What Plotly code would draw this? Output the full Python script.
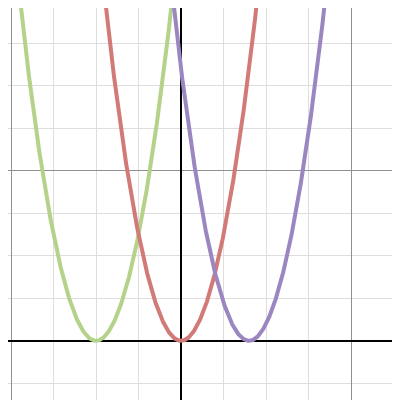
import numpy as np
import plotly.graph_objects as go

# parabolas y = a * (x - h)^2
curve_names = ["green", "red", "purple"]
vertex_x = [-1.0, 0.0, 0.8]
coef_a = [5.0, 5.0, 5.0]
colors = ["#b5d28a", "#d27a78", "#9b86c2"]

# visible window of the reference; page body has 8px margin, so shift
px_per_unit = 85.0
body_off = 8 / px_per_unit
x_range = [-2.13 + body_off, -2.13 + body_off + 400 / px_per_unit]
y_range = [4.01 - body_off - 400 / px_per_unit, 4.01 - body_off]

fig = go.Figure()
xs = np.linspace(x_range[0] - 0.2, x_range[1], 1200)
for name, h, a, c in zip(curve_names, vertex_x, coef_a, colors):
    ys = a * (xs - h) ** 2
    ys = np.where(ys > 4.5, np.nan, ys)
    fig.add_trace(go.Scatter(x=xs, y=ys, mode="lines", name=name,
                             line=dict(color=c, width=4), hoverinfo="skip"))

axis_style = dict(showticklabels=False, ticks="", dtick=2, tick0=0,
                  showgrid=True, gridcolor="#909090", gridwidth=1,
                  zeroline=True, zerolinecolor="#000000", zerolinewidth=1.5,
                  minor=dict(dtick=0.5, showgrid=True, gridcolor="#dedede", gridwidth=1),
                  fixedrange=True, showline=False)

fig.update_layout(
    width=400, height=400, showlegend=False,
    margin=dict(l=0, r=0, t=0, b=0),
    paper_bgcolor="white", plot_bgcolor="white",
    xaxis=dict(range=x_range, **axis_style),
    yaxis=dict(range=y_range, **axis_style),
)
fig.write_html("out.html")
